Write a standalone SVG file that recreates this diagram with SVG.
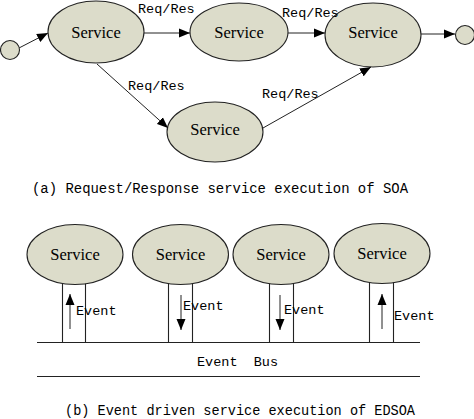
<svg xmlns="http://www.w3.org/2000/svg" width="474" height="419" viewBox="0 0 474 419">
<style>
.node ellipse{fill:#dcdcca;stroke:#222;stroke-width:1.1}
.term{fill:#dcdcca;stroke:#222;stroke-width:1.1}
.svc{font-family:"Liberation Serif","Times New Roman",serif;font-size:16.5px;fill:#000;text-anchor:middle}
.lbl{font-family:"Liberation Mono","Courier New",monospace;font-size:13.5px;fill:#000}
.cap{font-family:"Liberation Mono","Courier New",monospace;font-size:14px;fill:#000}
.conn line{stroke:#222;stroke-width:1}
.pipe{fill:none;stroke:#222;stroke-width:1.1}
</style>
<defs>
<marker id="ah" markerUnits="userSpaceOnUse" markerWidth="12" markerHeight="10" refX="11" refY="5" orient="auto">
<path d="M0,0.5 L11,5 L0,9.5 Z" fill="#000"/>
</marker>
</defs>

<!-- (a) -->
<g id="start"><circle class="term" cx="10" cy="50" r="9.5"/></g>
<g id="end"><circle class="term" cx="465" cy="35" r="9.5"/></g>
<g id="svcA1" class="node"><ellipse cx="96" cy="32" rx="48" ry="31"/><text class="svc" x="96" y="38">Service</text></g>
<g id="svcA2" class="node"><ellipse cx="239" cy="32" rx="49" ry="29"/><text class="svc" x="239" y="38">Service</text></g>
<g id="svcA3" class="node"><ellipse cx="373" cy="35" rx="48" ry="32"/><text class="svc" x="373" y="38">Service</text></g>
<g id="svcA4" class="node"><ellipse cx="215" cy="132" rx="48" ry="30"/><text class="svc" x="215" y="135">Service</text></g>

<g id="connectors" class="conn">
<line x1="19" y1="48" x2="48" y2="33" marker-end="url(#ah)"/>
<line x1="144" y1="33" x2="190" y2="33" marker-end="url(#ah)"/>
<line x1="288" y1="33" x2="325" y2="33" marker-end="url(#ah)"/>
<line x1="421" y1="34" x2="455" y2="34" marker-end="url(#ah)"/>
<line x1="97" y1="64" x2="168" y2="128" marker-end="url(#ah)"/>
<line x1="263" y1="128" x2="371" y2="67" marker-end="url(#ah)"/>
<line x1="70" y1="329" x2="70" y2="294" marker-end="url(#ah)"/>
<line x1="181" y1="295" x2="181" y2="330" marker-end="url(#ah)"/>
<line x1="280" y1="295" x2="280" y2="330" marker-end="url(#ah)"/>
<line x1="382" y1="329" x2="382" y2="294" marker-end="url(#ah)"/>
</g>

<g id="labels">
<text class="lbl" x="138" y="13">Req/Res</text>
<text class="lbl" x="282" y="17">Req/Res</text>
<text class="lbl" x="128" y="90">Req/Res</text>
<text class="lbl" x="262" y="98">Req/Res</text>
</g>

<text class="cap" x="32" y="193" textLength="376" lengthAdjust="spacingAndGlyphs">(a) Request/Response service execution of SOA</text>

<!-- (b) -->
<g id="bus">
<line x1="37" y1="342.5" x2="420" y2="342.5" stroke="#222" stroke-width="1.1"/>
<line x1="37" y1="376.5" x2="420" y2="376.5" stroke="#222" stroke-width="1.1"/>
<text class="lbl" x="197" y="366" xml:space="preserve">Event  Bus</text>
</g>

<g id="svcB1">
<path class="pipe" d="M62.5,280 V342.5 M85.5,280 V342.5"/>
<ellipse class="term" cx="75" cy="254.5" rx="48" ry="30"/>
<text class="svc" x="75" y="260">Service</text>
<text class="lbl" x="76" y="315">Event</text>
</g>
<g id="svcB2">
<path class="pipe" d="M168.5,280 V342.5 M192.5,280 V342.5"/>
<ellipse class="term" cx="180.5" cy="254.5" rx="48" ry="30"/>
<text class="svc" x="180.5" y="260">Service</text>
<text class="lbl" x="183" y="310">Event</text>
</g>
<g id="svcB3">
<path class="pipe" d="M269.5,280 V342.5 M293.5,280 V342.5"/>
<ellipse class="term" cx="281" cy="254.5" rx="48" ry="30"/>
<text class="svc" x="281" y="260">Service</text>
<text class="lbl" x="284" y="314">Event</text>
</g>
<g id="svcB4">
<path class="pipe" d="M369.5,280 V342.5 M393.5,280 V342.5"/>
<ellipse class="term" cx="382" cy="253.5" rx="48" ry="30"/>
<text class="svc" x="382" y="259">Service</text>
<text class="lbl" x="394" y="320">Event</text>
</g>

<text class="cap" x="65" y="415" textLength="350" lengthAdjust="spacingAndGlyphs">(b) Event driven service execution of EDSOA</text>
</svg>
